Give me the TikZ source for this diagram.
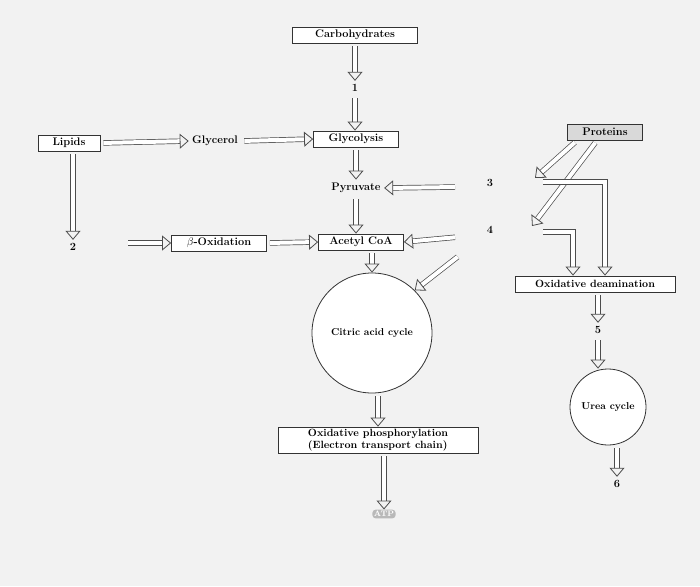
\documentclass[tikz,border=0pt]{standalone}
\usetikzlibrary{arrows.meta}
\begin{document}
\begin{tikzpicture}[x=1pt,y=-1pt,
  box/.style={draw=black!80,thick,fill=white,font=\bfseries\fontsize{11}{12}\selectfont,inner sep=2pt,minimum height=16pt},
  lbl/.style={font=\bfseries\fontsize{11}{12}\selectfont},
  ha/.style={draw=black!70,double=white,double distance=4pt,line width=0.7pt,shorten <=3pt,-{Triangle[open,width=15pt,length=9pt,line width=0.8pt]}},
  ring/.style={draw=black!80,thick,circle,fill=white,align=center,font=\bfseries\fontsize{10}{11}\selectfont}]
\fill[gray!10] (0,0) rectangle (700,586);
\useasboundingbox (0,0) rectangle (700,586);
\node[box,minimum width=125pt] (carb) at (355,35) {Carbohydrates};
\node[lbl] (n1) at (355,88) {1};
\node[box,minimum width=85pt] (gly) at (356,139) {Glycolysis};
\node[box,minimum width=62pt] (lip) at (69,143) {Lipids};
\node[lbl] (glyc) at (215,141) {Glycerol};
\node[lbl] (n2) at (73,247) {2};
\node[box,minimum width=95pt] (box) at (219,243) {$\beta$-Oxidation};
\node[box,minimum width=85pt] (acoa) at (361,242) {Acetyl CoA};
\node[lbl] (pyr) at (356,188) {Pyruvate};
\node[lbl] (n3) at (490,183) {3};
\node[lbl] (n4) at (490,230) {4};
\node[ring,minimum size=120pt] (tca) at (372,333) {Citric acid cycle};
\node[box,align=left,minimum width=200pt,font=\bfseries\fontsize{10.5}{12}\selectfont] (ox) at (378,440) {Oxidative phosphorylation\\(Electron transport chain)};
\node[lbl,fill=gray!55,text=white,rounded corners=3pt,inner sep=1.5pt,font=\bfseries\fontsize{8}{9}\selectfont] (atp) at (384,514) {ATP};
\node[box,minimum width=75pt,fill=gray!30] (prot) at (605,132) {Proteins};
\node[box,minimum width=160pt,font=\bfseries\fontsize{10.5}{12}\selectfont] (deam) at (595,284) {Oxidative deamination};
\node[lbl] (n5) at (598,330) {5};
\node[ring,minimum size=76pt] (urea) at (608,407) {Urea cycle};
\node[lbl] (n6) at (617,484) {6};
\coordinate (p3) at (458,187);
\coordinate (p4) at (458,237);
\coordinate (d1) at (460,255);
\coordinate (b1) at (605,182);
\coordinate (b2) at (573,232);
\draw[ha] (carb.south) -- (n1.north);
\draw[ha] (n1.south) -- (n1.south |- gly.north);
\draw[ha] (lip.east) -- (glyc.west);
\draw[ha] (glyc.east) -- (gly.west);
\draw[ha] (lip.south -| n2) -- (n2.north);
\draw[ha] (125,243) -- (box.west);
\draw[ha] (box.east) -- (acoa.west);
\draw[ha] (gly.south) -- (gly.south |- pyr.north);
\draw[ha] (p3) -- (pyr.east);
\draw[ha] (pyr.south) -- (pyr.south |- acoa.north);
\draw[ha] (p4) -- (acoa.east);
\draw[ha] (acoa.south -| tca.north) -- (tca.north);
\draw[ha] (d1) -- (tca.north east);
\draw[ha] (tca.south -| ox.north) -- (ox.north);
\draw[ha] (ox.south -| atp) -- (atp.north);
\draw[ha] ([xshift=10pt]prot.south west) -- (535,178);
\draw[ha] ([xshift=-8pt]prot.south) -- (532,226);
\draw[ha] (540,182) -- (b1) -- (b1 |- deam.north);
\draw[ha] (540,232) -- (b2) -- (b2 |- deam.north);
\draw[ha] (deam.south -| n5) -- (n5.north);
\draw[ha] (n5.south) -- (urea.north -| n5);
\draw[ha] (urea.south -| n6) -- (n6.north);
\end{tikzpicture}
\end{document}
